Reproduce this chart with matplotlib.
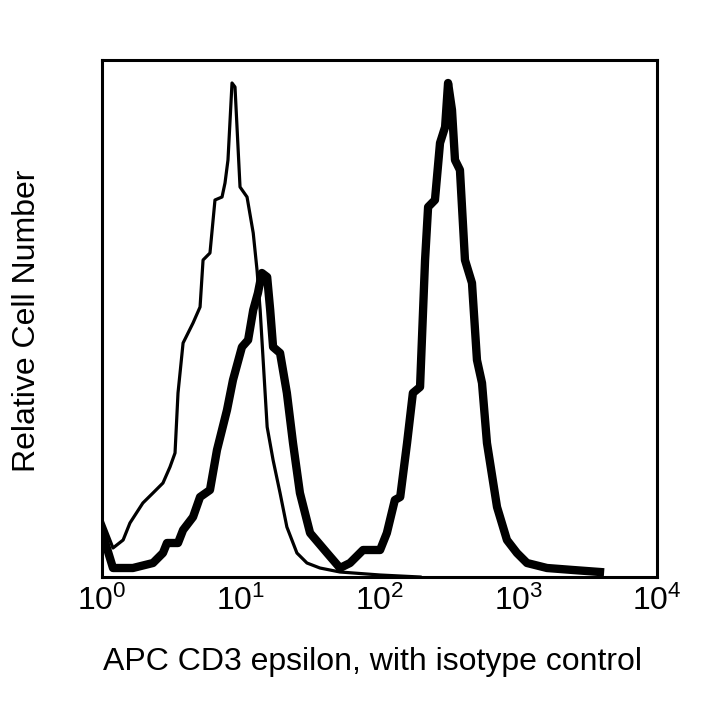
import numpy as np
import matplotlib.pyplot as plt

plt.rcParams['font.family'] = ['Liberation Sans', 'DejaVu Sans']
plt.rcParams['mathtext.fontset'] = 'custom'
plt.rcParams['mathtext.rm'] = 'Liberation Sans'
plt.rcParams['mathtext.default'] = 'regular'

# isotype control (thin line)
iso_x = [1.0, 1.2, 1.42, 1.59, 1.97, 2.33, 2.75, 3.09, 3.36, 3.53, 3.84, 4.53, 5.09,
         5.35, 6.0, 6.52, 7.33, 7.7, 8.09, 8.65, 9.09, 9.88, 11.1, 12.3, 13.1, 13.8,
         14.5, 15.5, 17.1, 19.2, 21.5, 25.4, 30.0, 37.2, 51.9, 101, 196]
iso_y = [57, 29, 37, 54, 74, 84, 94, 110, 124, 184, 234, 254, 270,
         317, 324, 377, 380, 394, 417, 494, 490, 390, 380, 344, 307, 267,
         217, 150, 117, 84, 50, 24, 14, 9, 5, 2, 0]

# APC CD3 epsilon (thick line)
cd3_x = [1.0, 1.2, 1.67, 2.33, 2.75, 2.94, 3.53, 3.84, 4.53, 5.09, 6.0, 6.74, 7.96,
         8.79, 10.2, 11.3, 12.3, 13.3, 14.2, 15.5, 16.3, 17.1, 19.2, 21.5, 23.8,
         26.7, 31.6, 41.9, 51.9, 61.3, 76.1, 101, 113, 129, 141, 158, 174, 196,
         213, 224, 251, 273, 297, 312, 333, 350, 380, 413, 464, 504, 548, 595,
         703, 829, 979, 1156, 1611, 2482, 3882]
cd3_y = [45, 9, 9, 14, 24, 34, 34, 47, 60, 80, 87, 127, 167,
         197, 230, 237, 267, 284, 304, 300, 267, 230, 224, 184, 134,
         84, 44, 24, 9, 14, 27, 27, 44, 77, 80, 134, 184, 190,
         317, 370, 377, 434, 450, 494, 467, 417, 407, 317, 294, 217, 194, 134,
         70, 37, 24, 14, 9, 7, 5]

fig = plt.figure(figsize=(7.2, 7.2), dpi=100)
ax = fig.add_axes([102/720, 143/720, 555/720, 517/720])

ax.plot(iso_x, iso_y, color='black', lw=2.3, solid_joinstyle='round')
ax.plot(cd3_x, cd3_y, color='black', lw=6, solid_joinstyle='round')

ax.set_xscale('log')
ax.set_xlim(1, 1e4)
ax.set_ylim(0, 517)
ax.set_xticks([1, 10, 100, 1000, 10000])
ax.set_xticklabels(['10$^{%d}$' % i for i in range(5)])
ax.minorticks_off()
ax.set_yticks([])
ax.tick_params(axis='x', length=0, pad=6, labelsize=23)
for s in ax.spines.values():
    s.set_linewidth(2.2)

ax.set_xlabel('APC CD3 epsilon, with isotype control', fontsize=23)
ax.xaxis.set_label_coords(0.487, -0.135)
ax.set_ylabel('Relative Cell Number', fontsize=23)
ax.yaxis.set_label_coords(-0.108, 0.495)

fig.savefig('out.png', dpi=100)
